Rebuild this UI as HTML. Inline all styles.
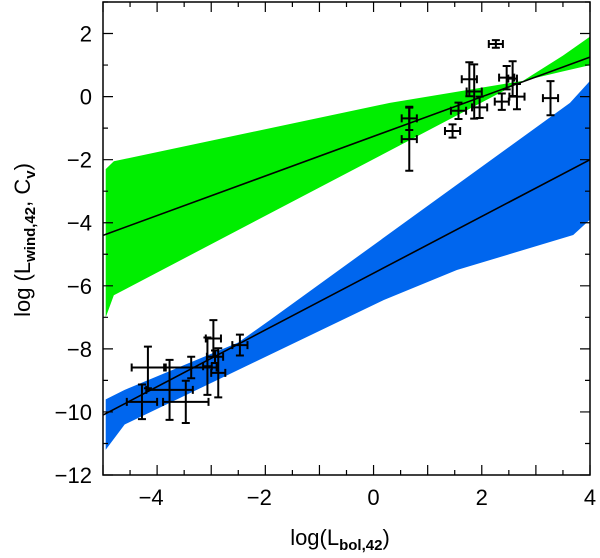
<!DOCTYPE html>
<html><head><meta charset="utf-8"><style>
body{margin:0;background:#fff;width:600px;height:553px;overflow:hidden;font-family:"Liberation Sans",sans-serif}
</style></head><body>
<svg id="chart" width="600" height="553" xmlns="http://www.w3.org/2000/svg" font-family="Liberation Sans, sans-serif">
<g id="bands"></g><g id="lines"></g><g id="pts"></g><g id="axes"></g>
<text x="340" y="545" font-size="22" text-anchor="middle">log(L<tspan font-size="15" font-weight="bold" dy="5">bol,42</tspan><tspan dy="-5">)</tspan></text>
<text transform="translate(30,240) rotate(-90)" font-size="22" text-anchor="middle">log (L<tspan font-size="15" font-weight="bold" dy="5">wind,42</tspan><tspan dy="-5">, C</tspan><tspan font-size="15" font-weight="bold" dy="5">v</tspan><tspan dy="-5">)</tspan></text>
</svg>
<script>
const xTicks=[-4,-2,0,2,4];
const yTicks=[-12,-10,-8,-6,-4,-2,0,2];
const greenUpper=[[-4.95,-2.3],[-4.8,-2.05],[0.3,-0.2],[2.76,0.5],[3.5,1.3],[4,1.9]];
const greenLower=[[-4.95,-7.0],[-4.8,-6.3],[2.76,0.5],[3.5,0.8],[4,1.0]];
const blueUpper=[[-4.95,-9.6],[-4.6,-9.3],[-2.5,-7.8],[-1.91,-7.08],[3.63,-0.2],[4,0.5]];
const blueLower=[[-4.95,-11.2],[-4.6,-10.4],[0.19,-6.45],[1.54,-5.5],[3.69,-4.39],[4,-3.9]];
const fitGreen=[[-5,-4.4],[4,1.25]];
const fitBlue=[[-5,-10.1],[4,-2.0]];
const ptX=[2.26,1.46,0.66,0.66,1.57,1.77,1.86,1.96,2.37,2.46,2.57,2.65,3.27,-4.17,-4.28,-3.77,-3.47,-3.37,-3.07,-2.96,-2.93,-2.87,-2.47];
const ptY=[1.67,-1.09,-0.69,-1.35,-0.45,0.55,0.16,-0.34,-0.16,0.6,0.57,0,-0.05,-8.59,-9.68,-9.3,-9.68,-8.59,-8.55,-7.67,-8.25,-8.76,-7.88];
const ptXerr=[0.13,0.14,0.14,0.14,0.14,0.14,0.14,0.14,0.13,0.14,0.08,0.14,0.14,0.3,0.28,0.43,0.42,0.47,0.08,0.14,0.15,0.13,0.14];
const ptYerr=[0.12,0.21,0.37,1.0,0.26,0.54,0.86,0.34,0.26,0.37,0.55,0.4,0.54,0.66,0.55,0.95,0.67,0.34,0.91,0.58,0.2,0.78,0.33];
const X0=103,X1=590,Y0=2,Y1=475;
const sx=v=>X0+(v+5)/9*(X1-X0);
const sy=v=>Y0+(3-v)/15*(Y1-Y0);
const NS="http://www.w3.org/2000/svg";
function mk(tag,parent,attrs){const e=document.createElementNS(NS,tag);for(const k in attrs)e.setAttribute(k,attrs[k]);document.getElementById(parent).appendChild(e);return e;}
function band(up,lo,fill,name){
 const pts=up.map(p=>sx(p[0])+','+sy(p[1])).concat(lo.slice().reverse().map(p=>sx(p[0])+','+sy(p[1])));
 const e=mk('polygon','bands',{points:pts.join(' '),fill:fill});
 
 
}
band(greenUpper,greenLower,'#00ee00','green-confidence-band');
band(blueUpper,blueLower,'#0066ee','blue-confidence-band');
[[fitGreen,'fit-line-wind'],[fitBlue,'fit-line-cv']].forEach(([f,n])=>{
 const e=mk('line','lines',{x1:sx(f[0][0]),y1:sy(f[0][1]),x2:sx(f[1][0]),y2:sy(f[1][1]),stroke:'#000','stroke-width':1.6});
 
 
});
ptX.forEach((x,i)=>{
 const cx=sx(x),cy=sy(ptY[i]);
 const xl=sx(x-ptXerr[i]),xr=sx(x+ptXerr[i]),yt=sy(ptY[i]+ptYerr[i]),yb=sy(ptY[i]-ptYerr[i]);
 const d=`M${xl},${cy}H${xr}M${cx},${yt}V${yb}M${xl},${cy-4}V${cy+4}M${xr},${cy-4}V${cy+4}M${cx-4},${yt}H${cx+4}M${cx-4},${yb}H${cx+4}`;
 const e=mk('path','pts',{d:d,stroke:'#000','stroke-width':2,fill:'none'});
 
 
});
const fr=mk('rect','axes',{x:X0,y:Y0,width:X1-X0,height:Y1-Y0,fill:'none',stroke:'#000','stroke-width':1.5});


for(let v=-5;v<=4.001;v+=0.5){const x=sx(v),L=Number.isInteger(v)?10:5;
 mk('path','axes',{d:`M${x},${Y1}V${Y1-L}M${x},${Y0}V${Y0+L}`,stroke:'#000','stroke-width':1.2});}
for(let v=-12;v<=3.001;v+=1){const y=sy(v),L=(v%2===0)?10:5;
 mk('path','axes',{d:`M${X0},${y}H${X0+L}M${X1},${y}H${X1-L}`,stroke:'#000','stroke-width':1.2});}
xTicks.forEach(v=>{const t=mk('text','axes',{x:sx(v)-(v<0?6:0),y:505,'font-size':22,'text-anchor':'middle'});
 t.textContent=v<0?'\u2212'+(-v):v;
 
 });
yTicks.forEach(v=>{const t=mk('text','axes',{x:92,y:sy(v)+8,'font-size':22,'text-anchor':'end'});
 t.textContent=v<0?'\u2212'+(-v):v;
 
 });
</script>
</body></html>
